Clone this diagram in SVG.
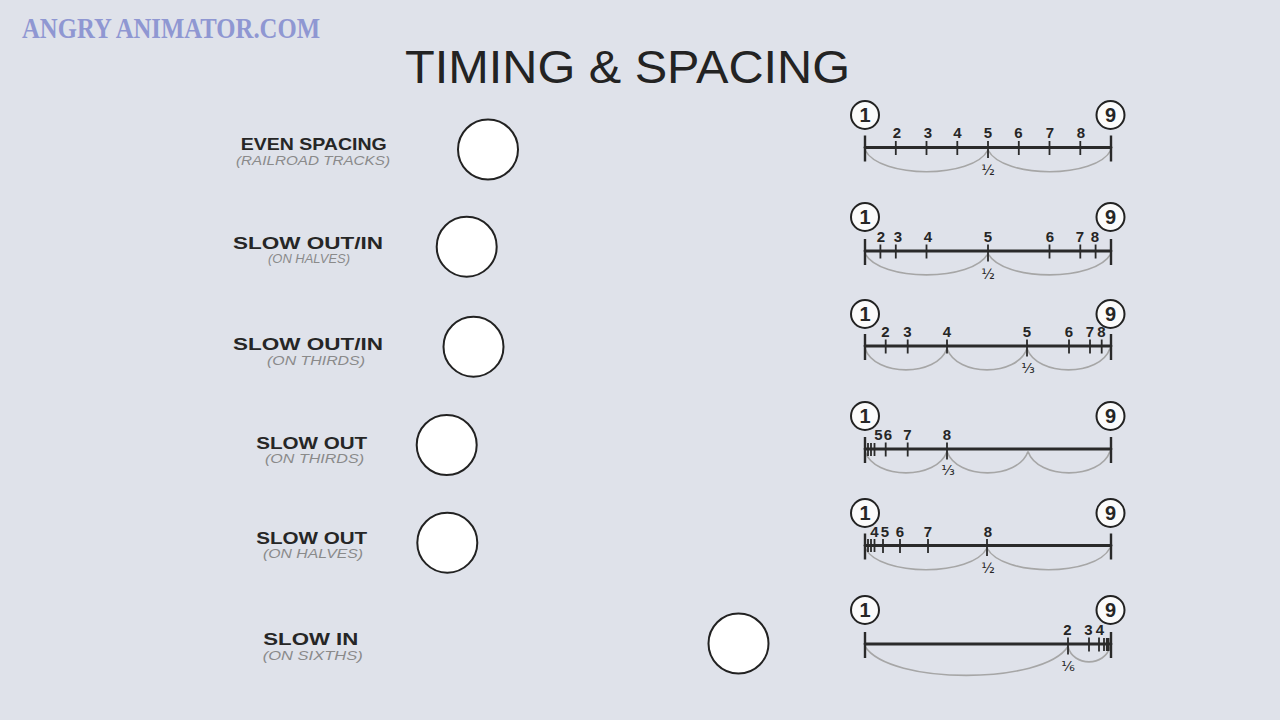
<svg xmlns="http://www.w3.org/2000/svg" width="1280" height="720" viewBox="0 0 1280 720">
<style>
.bg{fill:#dfe2ea}
.wm{font-family:"Liberation Serif",serif;font-weight:bold;font-size:29px;fill:#8f97d2}
.title{font-family:"Liberation Sans",sans-serif;font-size:46px;fill:#232323}
.lbl{font-family:"Liberation Sans",sans-serif;font-weight:bold;font-size:17px;fill:#262626;text-anchor:middle}
.sub{font-family:"Liberation Sans",sans-serif;font-size:12px;fill:#8a8a8a;text-anchor:middle;font-style:italic}
.ball{fill:#ffffff;stroke:#222;stroke-width:2}
.axis{stroke:#2a2a2a;stroke-width:2.8;fill:none;stroke-linecap:round}
.tick{stroke:#2a2a2a;stroke-width:1.8;fill:none}
.end{stroke:#2a2a2a;stroke-width:2.4;fill:none}
.arc{stroke:#a6a6a6;stroke-width:1.6;fill:none}
.num{font-family:"Liberation Sans",sans-serif;font-weight:bold;font-size:15px;fill:#262626;text-anchor:middle}
.key{fill:#fbfbfb;stroke:#222;stroke-width:2}
.keyn{font-family:"Liberation Sans",sans-serif;font-weight:bold;font-size:20px;fill:#262626;text-anchor:middle}
.frac{font-family:"DejaVu Sans",sans-serif;font-size:14px;fill:#262626;text-anchor:middle}
</style>
<rect class="bg" x="0" y="0" width="1280" height="720"/>
<text class="wm" x="22" y="38" textLength="298" lengthAdjust="spacingAndGlyphs">ANGRY ANIMATOR.COM</text>
<text class="title" x="405" y="83" textLength="445" lengthAdjust="spacingAndGlyphs">TIMING &amp; SPACING</text>

<g id="labels">
<g id="label-even"><text class="lbl" x="313.7" y="150" textLength="146" lengthAdjust="spacingAndGlyphs">EVEN SPACING</text><text class="sub" x="313" y="164.5" textLength="154" lengthAdjust="spacingAndGlyphs">(RAILROAD TRACKS)</text></g>
<g id="label-slowoutin-halves"><text class="lbl" x="308" y="248.5" textLength="150" lengthAdjust="spacingAndGlyphs">SLOW OUT/IN</text><text class="sub" x="309" y="263" textLength="82" lengthAdjust="spacingAndGlyphs">(ON HALVES)</text></g>
<g id="label-slowoutin-thirds"><text class="lbl" x="308" y="350" textLength="150" lengthAdjust="spacingAndGlyphs">SLOW OUT/IN</text><text class="sub" x="316" y="364.5" textLength="98" lengthAdjust="spacingAndGlyphs">(ON THIRDS)</text></g>
<g id="label-slowout-thirds"><text class="lbl" x="311.7" y="448.5" textLength="111" lengthAdjust="spacingAndGlyphs">SLOW OUT</text><text class="sub" x="314.5" y="463" textLength="99" lengthAdjust="spacingAndGlyphs">(ON THIRDS)</text></g>
<g id="label-slowout-halves"><text class="lbl" x="311.7" y="543.5" textLength="111" lengthAdjust="spacingAndGlyphs">SLOW OUT</text><text class="sub" x="313" y="558" textLength="100" lengthAdjust="spacingAndGlyphs">(ON HALVES)</text></g>
<g id="label-slowin-sixths"><text class="lbl" x="310.8" y="645" textLength="95" lengthAdjust="spacingAndGlyphs">SLOW IN</text><text class="sub" x="312.7" y="660" textLength="100" lengthAdjust="spacingAndGlyphs">(ON SIXTHS)</text></g>
</g>

<g id="balls">
<g id="ball-1"><circle class="ball" cx="488" cy="149.5" r="30"/></g>
<g id="ball-2"><circle class="ball" cx="466.7" cy="246.7" r="30"/></g>
<g id="ball-3"><circle class="ball" cx="473.5" cy="346.7" r="30"/></g>
<g id="ball-4"><circle class="ball" cx="446.7" cy="445" r="30"/></g>
<g id="ball-5"><circle class="ball" cx="447.3" cy="542.7" r="30"/></g>
<g id="ball-6"><circle class="ball" cx="738.5" cy="643.5" r="30"/></g>
</g>

<!-- Chart 1: even spacing -->
<g id="chart-1">
<path class="arc" d="M865 150 C880 179,973 179,988 150 M988 150 C1003 179,1096 179,1111 150"/>
<path class="axis" d="M865 147.5 L1111 147.5"/>
<path class="end" d="M865 135.5 V161.5 M1111 135.5 V161.5"/>
<path class="tick" d="M895.8 141 V155 M926.5 141 V155 M957.3 141 V155 M988 141 V158 M1018.8 141 V155 M1049.5 141 V155 M1080.3 141 V155"/>
<text class="num" x="897" y="138">2</text><text class="num" x="928" y="138">3</text><text class="num" x="957.5" y="138">4</text><text class="num" x="988" y="138">5</text><text class="num" x="1018.5" y="138">6</text><text class="num" x="1050" y="138">7</text><text class="num" x="1081" y="138">8</text>
<text class="frac" x="988" y="175">½</text>
<circle class="key" cx="865" cy="115" r="14"/><text class="keyn" x="865" y="122">1</text>
<circle class="key" cx="1110.5" cy="115" r="14"/><text class="keyn" x="1110.5" y="122">9</text>
</g>

<!-- Chart 2: slow out/in on halves -->
<g id="chart-2">
<path class="arc" d="M865 253.5 C880 282,973 282,988 253.5 M988 253.5 C1003 282,1096 282,1111 253.5"/>
<path class="axis" d="M865 251 L1111 251"/>
<path class="end" d="M865 239 V265 M1111 239 V265"/>
<path class="tick" d="M880.4 244.5 V258.5 M895.8 244.5 V258.5 M926.5 244.5 V258.5 M988 244.5 V261.5 M1049.5 244.5 V258.5 M1080.3 244.5 V258.5 M1095.6 244.5 V258.5"/>
<text class="num" x="881" y="241.5">2</text><text class="num" x="898" y="241.5">3</text><text class="num" x="928" y="241.5">4</text><text class="num" x="988" y="241.5">5</text><text class="num" x="1050" y="241.5">6</text><text class="num" x="1080" y="241.5">7</text><text class="num" x="1095" y="241.5">8</text>
<text class="frac" x="988" y="278.5">½</text>
<circle class="key" cx="865" cy="217" r="14"/><text class="keyn" x="865" y="224">1</text>
<circle class="key" cx="1110.5" cy="217" r="14"/><text class="keyn" x="1110.5" y="224">9</text>
</g>

<!-- Chart 3: slow out/in on thirds -->
<g id="chart-3">
<path class="arc" d="M865 348.5 C875 377,937 377,947 348.5 M947 348.5 C957 377,1017 377,1027 348.5 M1027 348.5 C1037 377,1100 377,1110 348.5"/>
<path class="axis" d="M865 346 L1111 346"/>
<path class="end" d="M865 334 V360 M1111 334 V360"/>
<path class="tick" d="M885.7 339.5 V353.5 M907.7 339.5 V353.5 M947 339.5 V353.5 M1027 339.5 V356.5 M1069 339.5 V353.5 M1090 339.5 V353.5 M1101.7 339.5 V353.5"/>
<text class="num" x="885.5" y="337">2</text><text class="num" x="907.5" y="337">3</text><text class="num" x="947" y="337">4</text><text class="num" x="1027" y="337">5</text><text class="num" x="1069" y="337">6</text><text class="num" x="1090" y="337">7</text><text class="num" x="1101.5" y="337">8</text>
<text class="frac" x="1028" y="373">⅓</text>
<circle class="key" cx="865" cy="314" r="14"/><text class="keyn" x="865" y="321">1</text>
<circle class="key" cx="1110.5" cy="314" r="14"/><text class="keyn" x="1110.5" y="321">9</text>
</g>

<!-- Chart 4: slow out on thirds -->
<g id="chart-4">
<path class="arc" d="M865 451.5 C875 480,937 480,947 451.5 M947 451.5 C957 480,1018 480,1028 451.5 M1028 451.5 C1038 480,1100 480,1110 451.5"/>
<path class="axis" d="M865 449 L1111 449"/>
<path class="end" d="M865 437 V463 M1111 437 V463"/>
<path class="tick" d="M868 443 V456 M871 443 V456 M874.5 443 V456 M885.7 442.5 V456.5 M907.7 442.5 V456.5 M947 442.5 V459.5"/>
<text class="num" x="878.5" y="440">5</text><text class="num" x="888" y="440">6</text><text class="num" x="907.5" y="440">7</text><text class="num" x="947" y="440">8</text>
<text class="frac" x="948" y="475">⅓</text>
<circle class="key" cx="865" cy="416" r="14"/><text class="keyn" x="865" y="423">1</text>
<circle class="key" cx="1110.5" cy="416" r="14"/><text class="keyn" x="1110.5" y="423">9</text>
</g>

<!-- Chart 5: slow out on halves -->
<g id="chart-5">
<path class="arc" d="M865 548 C880 577,972 577,987 548 M987 548 C1002 577,1095 577,1110 548"/>
<path class="axis" d="M865 545.5 L1111 545.5"/>
<path class="end" d="M865 533.5 V559.5 M1111 533.5 V559.5"/>
<path class="tick" d="M868 539 V552 M871 539 V552 M874.5 539 V552 M883 539 V553 M900 539 V553 M928 539 V553 M987 539 V556"/>
<text class="num" x="874.5" y="536.5">4</text><text class="num" x="885" y="536.5">5</text><text class="num" x="900" y="536.5">6</text><text class="num" x="928" y="536.5">7</text><text class="num" x="988" y="536.5">8</text>
<text class="frac" x="988" y="573">½</text>
<circle class="key" cx="865" cy="513" r="14"/><text class="keyn" x="865" y="520">1</text>
<circle class="key" cx="1110.5" cy="513" r="14"/><text class="keyn" x="1110.5" y="520">9</text>
</g>

<!-- Chart 6: slow in on sixths -->
<g id="chart-6">
<path class="arc" d="M865 646.5 C890 685,1043 685,1068 646.5 M1068 646.5 C1073 667,1105 667,1110 646.5"/>
<path class="axis" d="M865 644 L1111 644"/>
<path class="end" d="M865 632 V658 M1111 632 V658"/>
<path class="tick" d="M1068 637.5 V654.5 M1089 637.5 V651.5 M1099 637.5 V651.5 M1104 638 V651 M1106.8 638 V651 M1108.6 638 V651"/>
<text class="num" x="1067.5" y="634.5">2</text><text class="num" x="1088.5" y="634.5">3</text><text class="num" x="1100" y="634.5">4</text>
<text class="frac" x="1068" y="671">⅙</text>
<circle class="key" cx="865" cy="610" r="14"/><text class="keyn" x="865" y="617">1</text>
<circle class="key" cx="1110.5" cy="610" r="14"/><text class="keyn" x="1110.5" y="617">9</text>
</g>
</svg>
